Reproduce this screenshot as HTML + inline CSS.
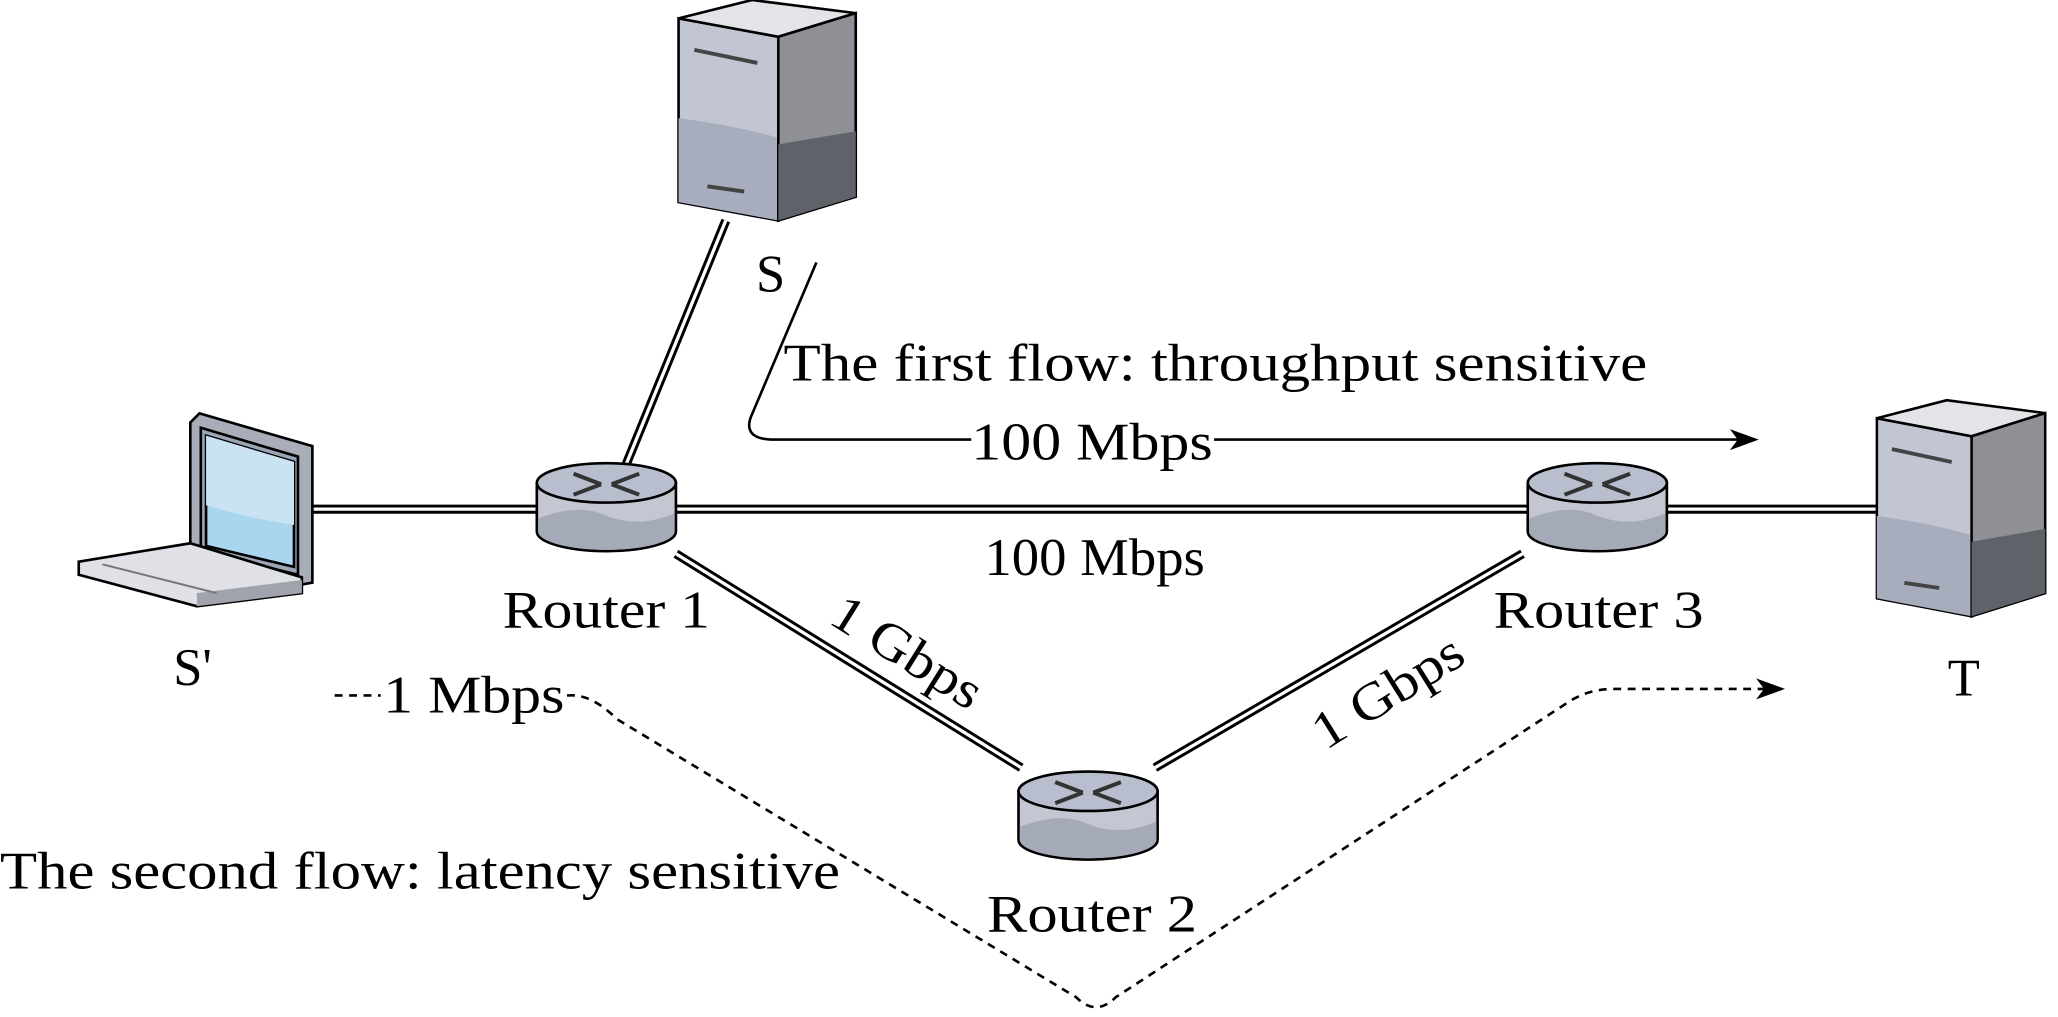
<!DOCTYPE html>
<html><head><meta charset="utf-8"><style>html,body{margin:0;padding:0;background:#fff}svg{display:block}</style></head>
<body>
<svg width="2058" height="1017" viewBox="0 0 1568 775" preserveAspectRatio="none" xmlns="http://www.w3.org/2000/svg" font-family="'Liberation Serif', serif" font-size="40">
<defs>
<g id="router">
<path d="M-53,-15 L-53,22 A53,15 0 0 0 53,22 L53,-15 Z" fill="#c4c7d2" stroke="#000" stroke-width="2"/>
<path d="M-52,12 Q-20,0 0,10 Q25,20 52,8 L52,22 A52,14 0 0 1 -52,22 Z" fill="#a5aab8"/>
<ellipse cx="0" cy="-15" rx="53" ry="15" fill="#b9bece" stroke="#000" stroke-width="2"/>
<g stroke="#333" stroke-width="3"><line x1="-25" y1="-22" x2="-4" y2="-14"/><line x1="25" y1="-22" x2="4" y2="-14"/><line x1="-25" y1="-6" x2="-4" y2="-14"/><line x1="25" y1="-6" x2="4" y2="-14"/></g>
</g>
<g id="server">
<path d="M0,14 L76,28 L76,168 L0,154 Z" fill="#c2c6d3" stroke="#000" stroke-width="2"/>
<path d="M0,90 Q40,95 76,105 L76,168 L0,154 Z" fill="#a8adbd"/>
<path d="M0,14 L56,0 L135,10 L76,28 Z" fill="#e3e4e8" stroke="#000" stroke-width="2"/>
<path d="M76,28 L135,10 L135,150 L76,168 Z" fill="#8f9095" stroke="#000" stroke-width="2"/>
<path d="M76,110 L135,100 L135,150 L76,168 Z" fill="#5f6268"/>
<line x1="12" y1="38" x2="60" y2="48" stroke="#444" stroke-width="3"/>
<line x1="22" y1="142" x2="50" y2="146" stroke="#444" stroke-width="3"/>
</g>
</defs>
<g stroke-linecap="butt">
<g stroke="#000" stroke-width="7" fill="none">
<line x1="236" y1="388" x2="412" y2="388"/><line x1="513" y1="388" x2="1166" y2="388"/><line x1="1268" y1="388" x2="1436" y2="388"/>
<line x1="553" y1="168" x2="477" y2="354"/><line x1="515" y1="422" x2="778" y2="585"/><line x1="880" y1="585" x2="1160" y2="422"/>
</g>
<g stroke="#fff" stroke-width="2.5" fill="none">
<line x1="236" y1="388" x2="412" y2="388"/><line x1="513" y1="388" x2="1166" y2="388"/><line x1="1268" y1="388" x2="1436" y2="388"/>
<line x1="553" y1="168" x2="477" y2="354"/><line x1="515" y1="422" x2="778" y2="585"/><line x1="880" y1="585" x2="1160" y2="422"/>
</g>
</g>
<g stroke="#000" stroke-width="2">
<path d="M145,322 L152,315 L238,340 L238,444 L215,448 L145,430 Z" fill="#a9adb9"/>
<path d="M153,326 L227,348 L227,438 L153,420 Z" fill="#9aa5b5"/>
<path d="M157,332 L224,352 L224,432 L157,416 Z" fill="#a9d6ee"/>
<path d="M60,428 L145,414 L230,440 L230,452 L150,462 L60,438 Z" fill="#dfe1e7"/>
</g>
<path d="M150,452 L230,442 L230,452 L150,462 Z" fill="#a0a3ab"/>
<line x1="78" y1="430" x2="165" y2="452" stroke="#777" stroke-width="1.5"/>
<path d="M157,332 L224,352 L224,400 Q190,395 157,385 Z" fill="#c9e3f3"/>
<use href="#server" x="517" y="0"/>
<use href="#server" transform="translate(1430,305) scale(0.95,0.98)"/>
<use href="#router" x="462" y="383"/>
<use href="#router" x="1217" y="383"/>
<use href="#router" x="829" y="618"/>
<path d="M622,200 L572,318 Q566,335 590,335 L740,335" fill="none" stroke="#000" stroke-width="2"/>
<path d="M925,335 L1325,335" stroke="#000" stroke-width="2"/>
<path d="M1340,335 L1318,327 L1324,335 L1318,343 Z" fill="#000"/>
<g fill="none" stroke="#000" stroke-width="2" stroke-dasharray="6,5">
<path d="M255,530 L290,530"/>
<path d="M432,530 Q450,528 470,548 L820,760 Q835,775 850,760 L1195,535 Q1210,525 1230,525 L1345,525"/>
</g>
<path d="M1360,525 L1338,517 L1344,525 L1338,533 Z" fill="#000"/>
<g fill="#000">
<text x="576" y="222">S</text>
<text x="132" y="522">S'</text>
<text x="1484" y="530">T</text>
<text x="383" y="478" textLength="158" lengthAdjust="spacingAndGlyphs">Router 1</text>
<text x="752" y="710" textLength="160" lengthAdjust="spacingAndGlyphs">Router 2</text>
<text x="1138" y="478" textLength="160" lengthAdjust="spacingAndGlyphs">Router 3</text>
<text x="750" y="438" textLength="168" lengthAdjust="spacingAndGlyphs">100 Mbps</text>
<text x="740" y="350" textLength="184" lengthAdjust="spacingAndGlyphs">100 Mbps</text>
<text x="292" y="543" textLength="138" lengthAdjust="spacingAndGlyphs">1 Mbps</text>
<text x="597" y="290" textLength="658" lengthAdjust="spacingAndGlyphs">The first flow: throughput sensitive</text>
<text x="0" y="677" textLength="640" lengthAdjust="spacingAndGlyphs">The second flow: latency sensitive</text>
<text transform="translate(630,474) rotate(32)" textLength="128" lengthAdjust="spacingAndGlyphs">1 Gbps</text>
<text transform="translate(1010,572) rotate(-32)" textLength="128" lengthAdjust="spacingAndGlyphs">1 Gbps</text>
</g>
</svg>
</body></html>
